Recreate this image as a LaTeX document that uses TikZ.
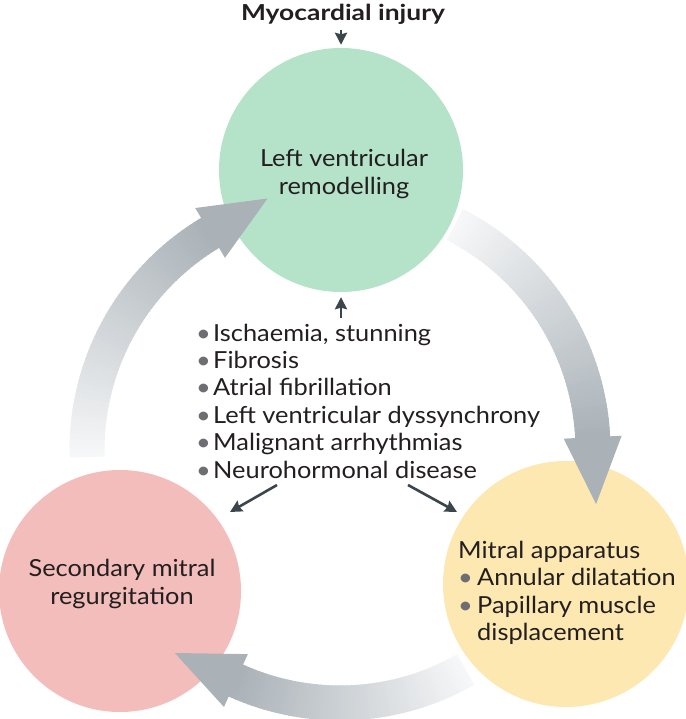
\documentclass[tikz,border=0pt]{standalone}
\usepackage{fontspec}
\setmainfont[FakeStretch=1.08]{Lato}
\newfontfamily\titlefont[FakeStretch=1.2]{Lato}
\usetikzlibrary{calc,arrows.meta}
\definecolor{green1}{HTML}{B5E3C9}
\definecolor{red1}{HTML}{F2BDBA}
\definecolor{yel1}{HTML}{FDE8B2}
\definecolor{arrlight}{RGB}{246,247,248}
\definecolor{arrdark}{RGB}{170,178,184}
\definecolor{darr}{HTML}{3A464C}
\definecolor{txt}{HTML}{231F20}
\definecolor{bulgray}{HTML}{6D6E71}
\newcommand\bul[1]{\makebox[#1][l]{\textcolor{bulgray}{\textbullet}}}
\newcommand\gradarrow[2]{%
  \foreach \i in {0,...,59}{%
    \pgfmathsetmacro\aa{#1+(#2-#1)*\i/60}%
    \pgfmathsetmacro\bb{#1+(#2-#1)*(\i+1.4)/60}%
    \pgfmathsetmacro\pc{100*\i/59}%
    \draw[line width=35pt, arrdark!\pc!arrlight, shift={(C)}] (\aa:253) arc[start angle=\aa, end angle=\bb, radius=253];
  }%
  \fill[arrdark] ($(C)+(#2:282)$) -- ($(C)+(#2:224)$) -- ($(C)+(#2:253)+({#2-90}:67)$) -- cycle;
}
\begin{document}
\begin{tikzpicture}[x=1pt,y=1pt,
  bodytext/.style={font=\fontsize{23.5}{27.4}\selectfont, text=txt, inner sep=0pt},
  bubble/.style={circle, inner sep=0pt, draw=none},
  darrow/.style={draw=darr, line width=2.6pt, -{Stealth[length=12pt,width=12pt,inset=1.5pt]}},
]
\useasboundingbox (0,0) rectangle (685,719);
\coordinate (C) at (340,269);

% circles
\node[bubble, fill=green1, minimum size=244pt] (lv) at (341,549) {};
\node[bubble, fill=red1, minimum size=242pt] (smr) at (120,128) {};
\node[bubble, fill=yel1, minimum size=246pt] (ma) at (566,135) {};

% big gradient arrows
\gradarrow{63}{2.9}
\gradarrow{-60.2}{-114.3}
\gradarrow{181.6}{120.9}

% texts
\node[font=\fontsize{22}{25}\selectfont\titlefont\bfseries, text=txt] (title) at (343,705) {Myocardial injury};
\node[bodytext, align=center] (lvt) at (344,545) {Left ventricular\\remodelling};
\node[bodytext, align=center] (smrt) at (122,135) {Secondary mitral\\regurgitation};
\node[bodytext, align=left, anchor=west] (mat) at (458,126) {Mitral apparatus\\\bul{19pt}Annular dilatation\\\bul{19pt}Papillary muscle\\\hspace*{19pt}displacement};
\node[bodytext, align=left, anchor=west] (list) at (196,318) {\bul{17pt}Ischaemia, stunning\\\bul{17pt}Fibrosis\\\bul{17pt}Atrial fibrillation\\\bul{17pt}Left ventricular dyssynchrony\\\bul{17pt}Malignant arrhythmias\\\bul{17pt}Neurohormonal disease};

% small arrows
\draw[darrow, shorten <=2pt, shorten >=3pt] (title.south -| lv.north) -- (lv.north);
\draw[darrow, shorten <=6pt, shorten >=5pt] (lv.south |- list.north) -- (lv.south);
\coordinate (ls) at (277,234);
\coordinate (le) at (230,207);
\coordinate (rs) at (408,234);
\coordinate (re) at (457,207);
\draw[darrow] (ls) -- (le);
\draw[darrow] (rs) -- (re);
\end{tikzpicture}
\end{document}
